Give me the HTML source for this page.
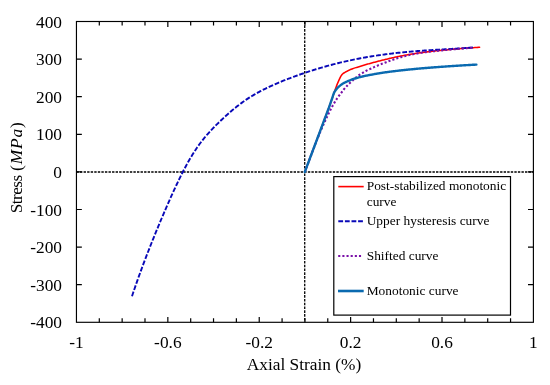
<!DOCTYPE html>
<html lang="en">
<head>
<meta charset="utf-8">
<title>Stress vs Axial Strain</title>
<style>
html,body{margin:0;padding:0;background:#fff;}
body{width:550px;height:385px;overflow:hidden;}
svg{display:block;font-family:"Liberation Serif","Times New Roman",serif;}
.t{font-size:17.33px;fill:#000;}
.lg{font-size:13.4px;fill:#000;}
</style>
</head>
<body>
<svg width="550" height="385" viewBox="0 0 550 385">
<rect width="550" height="385" fill="#fff"/>
<!-- zero lines -->
<g fill="none" stroke="#000" stroke-width="1.4" stroke-dasharray="2.4 1.16">
<path d="M76.45,172.00 H533.4"/>
</g>
<path d="M304.72,21.5 V322.3" fill="none" stroke="#000" stroke-width="1.3" stroke-dasharray="2.6 1.2"/>
<!-- curves -->
<g fill="none" stroke-linejoin="round">
<path d="M304.80,172.00 L305.09,171.23 L305.38,170.46 L305.66,169.69 L305.95,168.92 L306.24,168.15 L306.53,167.38 L306.82,166.61 L307.10,165.84 L307.39,165.07 L307.68,164.30 L307.97,163.53 L308.26,162.76 L308.54,161.99 L308.83,161.22 L309.12,160.45 L309.41,159.68 L309.70,158.91 L309.98,158.14 L310.27,157.37 L310.56,156.61 L310.85,155.84 L311.14,155.07 L311.42,154.30 L311.71,153.53 L312.00,152.76 L312.29,151.99 L312.57,151.22 L312.86,150.45 L313.15,149.68 L313.44,148.91 L313.73,148.14 L314.01,147.37 L314.30,146.60 L314.59,145.83 L314.88,145.06 L315.17,144.29 L315.45,143.52 L315.74,142.75 L316.03,141.98 L316.32,141.21 L316.61,140.44 L316.90,139.67 L317.18,138.90 L317.47,138.13 L317.76,137.36 L318.05,136.59 L318.34,135.82 L318.63,135.05 L318.92,134.28 L319.20,133.51 L319.49,132.74 L319.78,131.98 L320.07,131.21 L320.36,130.44 L320.64,129.67 L320.93,128.90 L321.22,128.13 L321.51,127.36 L321.80,126.59 L322.09,125.82 L322.37,125.05 L322.66,124.28 L322.95,123.51 L323.24,122.74 L323.53,121.97 L323.81,121.20 L324.10,120.43 L324.39,119.66 L324.68,118.89 L324.97,118.12 L325.25,117.35 L325.54,116.58 L325.83,115.81 L326.12,115.04 L326.41,114.27 L326.70,113.51 L326.99,112.74 L327.28,111.97 L327.57,111.20 L327.86,110.43 L328.15,109.66 L328.44,108.89 L328.72,108.12 L329.01,107.35 L329.29,106.58 L329.57,105.80 L329.85,105.03 L330.13,104.26 L330.40,103.48 L330.68,102.71 L330.95,101.93 L331.22,101.16 L331.50,100.38 L331.77,99.61 L332.04,98.83 L332.31,98.05 L332.57,97.28 L332.84,96.50 L333.10,95.72 L333.36,94.94 L333.62,94.16 L333.89,93.38 L334.15,92.60 L334.41,91.83 L334.68,91.05 L334.96,90.27 L335.23,89.50 L335.50,88.72 L335.78,87.95 L336.06,87.18 L336.35,86.41 L336.65,85.64 L336.95,84.88 L337.25,84.11 L337.56,83.35 L337.88,82.59 L338.21,81.84 L338.54,81.09 L338.87,80.34 L339.21,79.58 L339.55,78.83 L339.90,78.08 L340.26,77.34 L340.65,76.62 L341.07,75.93 L341.54,75.24 L342.05,74.59 L342.60,74.00 L343.24,73.47 L343.91,72.99 L344.60,72.55 L345.31,72.13 L346.03,71.74 L346.77,71.37 L347.50,71.00 L348.24,70.63 L348.98,70.26 L349.72,69.90 L350.47,69.56 L351.22,69.23 L351.98,68.93 L352.75,68.65 L353.52,68.38 L354.30,68.12 L355.08,67.87 L355.87,67.63 L356.66,67.39 L357.45,67.16 L358.24,66.93 L359.03,66.69 L359.82,66.46 L360.60,66.22 L361.39,65.98 L362.18,65.74 L362.96,65.50 L363.75,65.26 L364.54,65.02 L365.32,64.79 L366.11,64.56 L366.90,64.33 L367.69,64.10 L368.48,63.87 L369.27,63.65 L370.06,63.43 L370.86,63.21 L371.65,62.99 L372.44,62.77 L373.23,62.56 L374.03,62.35 L374.82,62.13 L375.62,61.92 L376.41,61.71 L377.21,61.51 L378.00,61.30 L378.80,61.10 L379.60,60.90 L380.39,60.70 L381.19,60.50 L381.99,60.31 L382.79,60.11 L383.58,59.91 L384.38,59.72 L385.18,59.52 L385.98,59.33 L386.78,59.13 L387.58,58.94 L388.38,58.75 L389.18,58.56 L389.98,58.37 L390.78,58.19 L391.58,58.00 L392.38,57.82 L393.19,57.64 L393.99,57.46 L394.79,57.28 L395.59,57.11 L396.40,56.94 L397.20,56.77 L398.01,56.60 L398.81,56.44 L399.62,56.28 L400.42,56.12 L401.23,55.96 L402.03,55.81 L402.84,55.65 L403.65,55.50 L404.46,55.35 L405.26,55.20 L406.07,55.05 L406.88,54.90 L407.69,54.76 L408.50,54.61 L409.31,54.47 L410.12,54.33 L410.93,54.19 L411.74,54.05 L412.56,53.92 L413.37,53.79 L414.18,53.66 L414.99,53.53 L415.80,53.41 L416.62,53.28 L417.43,53.16 L418.24,53.04 L419.06,52.93 L419.87,52.82 L420.68,52.71 L421.50,52.60 L422.31,52.49 L423.12,52.39 L423.94,52.28 L424.75,52.18 L425.57,52.08 L426.38,51.97 L427.20,51.87 L428.02,51.77 L428.83,51.68 L429.65,51.58 L430.46,51.48 L431.28,51.39 L432.10,51.30 L432.92,51.20 L433.73,51.11 L434.55,51.02 L435.37,50.93 L436.18,50.85 L437.00,50.76 L437.82,50.67 L438.64,50.59 L439.46,50.50 L440.27,50.42 L441.09,50.34 L441.91,50.26 L442.73,50.18 L443.55,50.10 L444.37,50.02 L445.18,49.94 L446.00,49.86 L446.82,49.79 L447.64,49.71 L448.46,49.64 L449.28,49.56 L450.09,49.49 L450.91,49.42 L451.73,49.35 L452.55,49.28 L453.37,49.21 L454.19,49.14 L455.01,49.07 L455.82,49.00 L456.64,48.93 L457.46,48.86 L458.28,48.79 L459.10,48.73 L459.92,48.66 L460.74,48.60 L461.56,48.53 L462.38,48.47 L463.20,48.40 L464.02,48.34 L464.84,48.28 L465.65,48.22 L466.47,48.16 L467.29,48.10 L468.11,48.04 L468.93,47.98 L469.75,47.92 L470.57,47.87 L471.39,47.81 L472.21,47.76 L473.04,47.70 L473.86,47.65 L474.68,47.60 L475.50,47.54 L476.32,47.49 L477.14,47.44 L477.96,47.39 L478.78,47.35 L479.60,47.30" stroke="#ff0000" stroke-width="1.55" stroke-linecap="round"/>
<path d="M132.00,296.23 L133.14,292.81 L134.28,289.44 L135.43,286.11 L136.57,282.83 L137.71,279.59 L138.85,276.39 L140.00,273.23 L141.14,270.10 L142.28,267.00 L143.42,263.94 L144.57,260.91 L145.71,257.90 L146.85,254.93 L147.99,251.98 L149.14,249.05 L150.28,246.15 L151.42,243.27 L152.56,240.41 L153.71,237.58 L154.85,234.76 L155.99,231.96 L157.13,229.18 L158.28,226.42 L159.42,223.68 L160.56,220.96 L161.70,218.25 L162.85,215.56 L163.99,212.88 L165.13,210.22 L166.27,207.58 L167.42,204.96 L168.56,202.36 L169.70,199.77 L170.84,197.21 L171.99,194.67 L173.13,192.15 L174.27,189.65 L175.41,187.19 L176.56,184.74 L177.70,182.33 L178.84,179.96 L179.98,177.61 L181.13,175.30 L182.27,173.03 L183.41,170.80 L184.55,168.60 L185.70,166.46 L186.84,164.35 L187.98,162.29 L189.12,160.28 L190.27,158.32 L191.41,156.40 L192.55,154.53 L193.69,152.71 L194.84,150.94 L195.98,149.21 L197.12,147.53 L198.26,145.90 L199.41,144.31 L200.55,142.77 L201.69,141.27 L202.83,139.80 L203.98,138.38 L205.12,136.99 L206.26,135.64 L207.40,134.32 L208.55,133.03 L209.69,131.77 L210.83,130.54 L211.97,129.33 L213.12,128.14 L214.26,126.97 L215.40,125.82 L216.54,124.68 L217.69,123.56 L218.83,122.46 L219.97,121.37 L221.11,120.28 L222.26,119.21 L223.40,118.16 L224.54,117.11 L225.68,116.07 L226.83,115.04 L227.97,114.03 L229.11,113.02 L230.25,112.03 L231.40,111.04 L232.54,110.08 L233.68,109.12 L234.82,108.18 L235.97,107.26 L237.11,106.35 L238.25,105.45 L239.39,104.57 L240.54,103.71 L241.68,102.87 L242.82,102.04 L243.96,101.23 L245.11,100.43 L246.25,99.65 L247.39,98.89 L248.53,98.14 L249.67,97.41 L250.82,96.70 L251.96,95.99 L253.10,95.31 L254.24,94.63 L255.39,93.97 L256.53,93.32 L257.67,92.68 L258.81,92.06 L259.96,91.44 L261.10,90.84 L262.24,90.25 L263.38,89.67 L264.53,89.09 L265.67,88.53 L266.81,87.97 L267.95,87.43 L269.10,86.89 L270.24,86.36 L271.38,85.83 L272.52,85.32 L273.67,84.81 L274.81,84.30 L275.95,83.81 L277.09,83.32 L278.24,82.83 L279.38,82.36 L280.52,81.88 L281.66,81.42 L282.81,80.95 L283.95,80.49 L285.09,80.04 L286.23,79.59 L287.38,79.15 L288.52,78.71 L289.66,78.27 L290.80,77.84 L291.95,77.41 L293.09,76.99 L294.23,76.57 L295.37,76.15 L296.52,75.74 L297.66,75.33 L298.80,74.92 L299.94,74.52 L301.09,74.12 L302.23,73.73 L303.37,73.34 L304.51,72.95 L305.66,72.57 L306.80,72.18 L307.94,71.81 L309.08,71.43 L310.23,71.06 L311.37,70.70 L312.51,70.33 L313.65,69.98 L314.80,69.62 L315.94,69.27 L317.08,68.92 L318.22,68.57 L319.37,68.23 L320.51,67.89 L321.65,67.56 L322.79,67.23 L323.94,66.90 L325.08,66.58 L326.22,66.26 L327.36,65.94 L328.51,65.63 L329.65,65.32 L330.79,65.01 L331.93,64.71 L333.08,64.41 L334.22,64.12 L335.36,63.83 L336.50,63.54 L337.65,63.25 L338.79,62.97 L339.93,62.69 L341.07,62.42 L342.22,62.15 L343.36,61.88 L344.50,61.62 L345.64,61.36 L346.79,61.10 L347.93,60.85 L349.07,60.59 L350.21,60.35 L351.36,60.10 L352.50,59.86 L353.64,59.63 L354.78,59.39 L355.93,59.16 L357.07,58.94 L358.21,58.71 L359.35,58.49 L360.49,58.28 L361.64,58.06 L362.78,57.85 L363.92,57.64 L365.06,57.44 L366.21,57.24 L367.35,57.04 L368.49,56.85 L369.63,56.65 L370.78,56.47 L371.92,56.28 L373.06,56.10 L374.20,55.92 L375.35,55.74 L376.49,55.57 L377.63,55.40 L378.77,55.23 L379.92,55.07 L381.06,54.91 L382.20,54.75 L383.34,54.59 L384.49,54.44 L385.63,54.29 L386.77,54.14 L387.91,54.00 L389.06,53.85 L390.20,53.71 L391.34,53.58 L392.48,53.44 L393.63,53.31 L394.77,53.18 L395.91,53.05 L397.05,52.93 L398.20,52.81 L399.34,52.69 L400.48,52.57 L401.62,52.45 L402.77,52.34 L403.91,52.23 L405.05,52.12 L406.19,52.02 L407.34,51.91 L408.48,51.81 L409.62,51.71 L410.76,51.61 L411.91,51.51 L413.05,51.42 L414.19,51.32 L415.33,51.23 L416.48,51.14 L417.62,51.06 L418.76,50.97 L419.90,50.88 L421.05,50.80 L422.19,50.72 L423.33,50.64 L424.47,50.56 L425.62,50.48 L426.76,50.40 L427.90,50.33 L429.04,50.25 L430.19,50.18 L431.33,50.10 L432.47,50.03 L433.61,49.96 L434.76,49.89 L435.90,49.82 L437.04,49.75 L438.18,49.68 L439.33,49.61 L440.47,49.54 L441.61,49.48 L442.75,49.41 L443.90,49.34 L445.04,49.28 L446.18,49.21 L447.32,49.14 L448.47,49.08 L449.61,49.01 L450.75,48.94 L451.89,48.87 L453.04,48.81 L454.18,48.74 L455.32,48.67 L456.46,48.60 L457.61,48.53 L458.75,48.46 L459.89,48.39 L461.03,48.32 L462.18,48.24 L463.32,48.17 L464.46,48.09 L465.60,48.02 L466.75,47.94 L467.89,47.86 L469.03,47.78 L470.17,47.70 L471.32,47.61 L472.46,47.53 L473.60,47.44" stroke="#0808b8" stroke-width="1.9" stroke-dasharray="4.8 1.8"/>
<path d="M304.80,172.00 L305.07,171.27 L305.34,170.55 L305.62,169.82 L305.89,169.09 L306.16,168.36 L306.43,167.64 L306.70,166.91 L306.98,166.18 L307.25,165.45 L307.52,164.73 L307.79,164.00 L308.06,163.27 L308.34,162.55 L308.61,161.82 L308.88,161.09 L309.15,160.36 L309.42,159.64 L309.69,158.91 L309.96,158.18 L310.23,157.45 L310.50,156.72 L310.77,156.00 L311.04,155.27 L311.31,154.54 L311.59,153.81 L311.86,153.09 L312.13,152.36 L312.41,151.63 L312.68,150.91 L312.96,150.18 L313.24,149.46 L313.52,148.73 L313.80,148.01 L314.08,147.29 L314.36,146.56 L314.64,145.84 L314.93,145.12 L315.21,144.39 L315.49,143.67 L315.78,142.95 L316.07,142.23 L316.36,141.51 L316.64,140.79 L316.93,140.06 L317.22,139.34 L317.52,138.63 L317.81,137.91 L318.10,137.19 L318.40,136.47 L318.69,135.75 L318.99,135.03 L319.28,134.31 L319.58,133.60 L319.88,132.88 L320.18,132.16 L320.48,131.45 L320.78,130.73 L321.09,130.02 L321.39,129.31 L321.70,128.59 L322.01,127.88 L322.32,127.17 L322.64,126.46 L322.95,125.75 L323.27,125.04 L323.59,124.33 L323.90,123.62 L324.22,122.91 L324.54,122.21 L324.86,121.50 L325.18,120.79 L325.51,120.08 L325.83,119.38 L326.16,118.67 L326.49,117.97 L326.82,117.26 L327.15,116.56 L327.48,115.86 L327.82,115.16 L328.16,114.46 L328.50,113.76 L328.84,113.07 L329.19,112.37 L329.54,111.68 L329.89,110.99 L330.24,110.30 L330.60,109.61 L330.96,108.93 L331.33,108.24 L331.69,107.56 L332.06,106.87 L332.44,106.19 L332.81,105.51 L333.20,104.84 L333.58,104.16 L333.97,103.49 L334.36,102.82 L334.76,102.15 L335.16,101.48 L335.56,100.82 L335.97,100.16 L336.39,99.51 L336.81,98.86 L337.24,98.21 L337.68,97.57 L338.13,96.93 L338.58,96.30 L339.04,95.68 L339.51,95.06 L339.99,94.45 L340.47,93.84 L340.95,93.23 L341.43,92.62 L341.90,92.00 L342.36,91.37 L342.82,90.74 L343.28,90.12 L343.75,89.51 L344.24,88.91 L344.75,88.32 L345.27,87.74 L345.79,87.16 L346.32,86.60 L346.86,86.03 L347.40,85.48 L347.95,84.93 L348.50,84.38 L349.05,83.84 L349.61,83.29 L350.16,82.75 L350.71,82.20 L351.27,81.66 L351.83,81.13 L352.41,80.60 L352.99,80.09 L353.58,79.59 L354.18,79.09 L354.78,78.60 L355.38,78.10 L355.97,77.60 L356.57,77.10 L357.16,76.60 L357.76,76.11 L358.38,75.64 L359.00,75.18 L359.65,74.75 L360.30,74.33 L360.96,73.92 L361.62,73.51 L362.29,73.11 L362.95,72.70 L363.61,72.29 L364.27,71.88 L364.94,71.48 L365.61,71.10 L366.30,70.74 L366.99,70.40 L367.70,70.07 L368.41,69.75 L369.11,69.43 L369.82,69.10 L370.52,68.76 L371.22,68.43 L371.92,68.09 L372.62,67.76 L373.33,67.44 L374.04,67.13 L374.75,66.82 L375.47,66.52 L376.18,66.22 L376.90,65.92 L377.61,65.61 L378.32,65.30 L379.04,65.00 L379.76,64.70 L380.47,64.41 L381.20,64.12 L381.92,63.83 L382.64,63.55 L383.36,63.27 L384.09,62.99 L384.81,62.71 L385.54,62.44 L386.27,62.17 L387.00,61.90 L387.72,61.63 L388.45,61.36 L389.18,61.09 L389.91,60.83 L390.64,60.57 L391.37,60.30 L392.10,60.04 L392.84,59.77 L393.57,59.50 L394.30,59.24 L395.03,58.98 L395.77,58.73 L396.50,58.48 L397.24,58.23 L397.98,58.00 L398.72,57.77 L399.46,57.55 L400.21,57.34 L400.95,57.14 L401.70,56.94 L402.45,56.74 L403.20,56.54 L403.95,56.35 L404.71,56.16 L405.46,55.97 L406.22,55.78 L406.97,55.60 L407.73,55.42 L408.49,55.24 L409.25,55.07 L410.01,54.90 L410.77,54.73 L411.53,54.56 L412.29,54.40 L413.05,54.25 L413.81,54.09 L414.58,53.94 L415.34,53.80 L416.10,53.66 L416.87,53.52 L417.63,53.38 L418.40,53.26 L419.16,53.13 L419.93,53.01 L420.69,52.90 L421.46,52.78 L422.22,52.67 L422.99,52.56 L423.76,52.45 L424.52,52.35 L425.29,52.24 L426.06,52.14 L426.83,52.04 L427.60,51.95 L428.37,51.85 L429.14,51.75 L429.91,51.66 L430.68,51.57 L431.45,51.48 L432.23,51.39 L433.00,51.31 L433.77,51.22 L434.54,51.13 L435.32,51.05 L436.09,50.97 L436.86,50.89 L437.64,50.81 L438.41,50.73 L439.18,50.65 L439.96,50.57 L440.73,50.49 L441.50,50.42 L442.28,50.34 L443.05,50.27 L443.83,50.19 L444.60,50.12 L445.37,50.04 L446.15,49.97 L446.92,49.89 L447.69,49.82 L448.47,49.75 L449.24,49.67 L450.01,49.60 L450.79,49.53 L451.56,49.45 L452.33,49.38 L453.10,49.31 L453.88,49.24 L454.65,49.17 L455.42,49.10 L456.20,49.03 L456.97,48.96 L457.74,48.89 L458.52,48.82 L459.29,48.75 L460.06,48.69 L460.84,48.62 L461.61,48.56 L462.39,48.49 L463.16,48.43 L463.93,48.36 L464.71,48.30 L465.48,48.24 L466.26,48.18 L467.03,48.12 L467.80,48.06 L468.58,48.00 L469.35,47.94 L470.13,47.88 L470.90,47.82 L471.68,47.77 L472.45,47.71 L473.23,47.65 L474.00,47.60" stroke="#7a10a8" stroke-width="2.1" stroke-dasharray="2.1 2.05"/>
<path d="M304.80,172.00 L305.07,171.27 L305.35,170.54 L305.62,169.81 L305.89,169.08 L306.16,168.35 L306.44,167.62 L306.71,166.89 L306.98,166.16 L307.26,165.43 L307.53,164.71 L307.80,163.98 L308.08,163.25 L308.35,162.52 L308.62,161.79 L308.89,161.06 L309.17,160.33 L309.44,159.60 L309.71,158.87 L309.99,158.14 L310.26,157.41 L310.53,156.68 L310.80,155.95 L311.08,155.22 L311.35,154.49 L311.62,153.76 L311.90,153.03 L312.17,152.30 L312.44,151.57 L312.71,150.84 L312.99,150.12 L313.26,149.39 L313.53,148.66 L313.80,147.93 L314.08,147.20 L314.35,146.47 L314.62,145.74 L314.90,145.01 L315.17,144.28 L315.44,143.55 L315.72,142.82 L315.99,142.09 L316.26,141.36 L316.54,140.63 L316.81,139.90 L317.08,139.17 L317.36,138.44 L317.63,137.72 L317.90,136.99 L318.18,136.26 L318.45,135.53 L318.72,134.80 L319.00,134.07 L319.27,133.34 L319.54,132.61 L319.82,131.88 L320.09,131.15 L320.36,130.42 L320.64,129.69 L320.91,128.96 L321.18,128.23 L321.45,127.50 L321.73,126.77 L322.00,126.05 L322.27,125.32 L322.55,124.59 L322.82,123.86 L323.09,123.13 L323.36,122.40 L323.64,121.67 L323.91,120.94 L324.18,120.21 L324.46,119.48 L324.73,118.75 L325.00,118.02 L325.28,117.29 L325.55,116.56 L325.83,115.83 L326.10,115.11 L326.38,114.38 L326.65,113.65 L326.93,112.92 L327.21,112.19 L327.48,111.46 L327.75,110.73 L328.03,110.01 L328.30,109.28 L328.57,108.55 L328.84,107.81 L329.11,107.08 L329.37,106.35 L329.64,105.62 L329.90,104.88 L330.15,104.15 L330.41,103.41 L330.66,102.68 L330.92,101.94 L331.17,101.20 L331.42,100.47 L331.68,99.73 L331.93,99.00 L332.18,98.26 L332.42,97.51 L332.66,96.76 L332.89,96.00 L333.13,95.25 L333.38,94.51 L333.64,93.78 L333.94,93.07 L334.26,92.39 L334.62,91.71 L335.04,91.05 L335.48,90.40 L335.96,89.77 L336.46,89.16 L336.96,88.56 L337.47,87.99 L338.01,87.43 L338.58,86.89 L339.17,86.37 L339.76,85.86 L340.36,85.37 L340.98,84.89 L341.60,84.42 L342.25,83.98 L342.90,83.56 L343.57,83.17 L344.26,82.81 L344.96,82.47 L345.67,82.13 L346.38,81.81 L347.09,81.49 L347.80,81.18 L348.52,80.87 L349.24,80.57 L349.97,80.28 L350.69,80.00 L351.42,79.73 L352.15,79.48 L352.89,79.22 L353.63,78.97 L354.37,78.73 L355.11,78.50 L355.86,78.26 L356.60,78.04 L357.35,77.82 L358.10,77.61 L358.85,77.40 L359.61,77.20 L360.36,77.01 L361.11,76.82 L361.87,76.64 L362.63,76.46 L363.39,76.29 L364.15,76.12 L364.91,75.95 L365.67,75.79 L366.44,75.63 L367.20,75.48 L367.97,75.32 L368.73,75.17 L369.49,75.02 L370.26,74.88 L371.02,74.73 L371.79,74.59 L372.56,74.45 L373.32,74.32 L374.09,74.18 L374.86,74.05 L375.63,73.92 L376.39,73.79 L377.16,73.66 L377.93,73.54 L378.70,73.41 L379.47,73.29 L380.24,73.16 L381.01,73.04 L381.78,72.91 L382.54,72.79 L383.31,72.67 L384.08,72.55 L384.85,72.43 L385.62,72.31 L386.39,72.20 L387.17,72.09 L387.94,71.98 L388.71,71.87 L389.48,71.77 L390.25,71.67 L391.02,71.57 L391.80,71.47 L392.57,71.38 L393.34,71.28 L394.11,71.19 L394.89,71.09 L395.66,71.00 L396.43,70.91 L397.21,70.82 L397.98,70.73 L398.75,70.64 L399.53,70.55 L400.30,70.46 L401.08,70.38 L401.85,70.29 L402.63,70.21 L403.40,70.12 L404.18,70.04 L404.95,69.96 L405.72,69.88 L406.50,69.80 L407.27,69.72 L408.05,69.64 L408.82,69.56 L409.60,69.48 L410.38,69.40 L411.15,69.33 L411.93,69.25 L412.70,69.18 L413.48,69.10 L414.25,69.03 L415.03,68.96 L415.80,68.88 L416.58,68.81 L417.35,68.74 L418.13,68.67 L418.91,68.60 L419.68,68.53 L420.46,68.46 L421.23,68.39 L422.01,68.32 L422.78,68.26 L423.56,68.19 L424.34,68.12 L425.11,68.06 L425.89,67.99 L426.66,67.93 L427.44,67.86 L428.22,67.80 L428.99,67.74 L429.77,67.68 L430.55,67.61 L431.32,67.55 L432.10,67.49 L432.88,67.43 L433.65,67.37 L434.43,67.31 L435.21,67.25 L435.98,67.19 L436.76,67.14 L437.54,67.08 L438.31,67.02 L439.09,66.96 L439.87,66.91 L440.64,66.85 L441.42,66.80 L442.20,66.74 L442.97,66.69 L443.75,66.63 L444.53,66.58 L445.31,66.52 L446.08,66.47 L446.86,66.41 L447.64,66.36 L448.41,66.31 L449.19,66.25 L449.97,66.20 L450.74,66.15 L451.52,66.10 L452.30,66.05 L453.08,65.99 L453.85,65.94 L454.63,65.89 L455.41,65.84 L456.18,65.79 L456.96,65.74 L457.74,65.69 L458.52,65.64 L459.29,65.59 L460.07,65.55 L460.85,65.50 L461.63,65.45 L462.40,65.40 L463.18,65.35 L463.96,65.31 L464.74,65.26 L465.51,65.21 L466.29,65.17 L467.07,65.12 L467.85,65.08 L468.62,65.03 L469.40,64.99 L470.18,64.94 L470.96,64.90 L471.73,64.85 L472.51,64.81 L473.29,64.77 L474.07,64.73 L474.84,64.68 L475.62,64.64 L476.40,64.60" stroke="#0a6ab0" stroke-width="2.4" stroke-linecap="round"/>
</g>
<!-- axes -->
<g fill="none" stroke="#000" stroke-width="1.2">
<path d="M99.30,322.3 V318.20 M99.30,21.5 V25.60"/>
<path d="M122.15,322.3 V318.20 M122.15,21.5 V25.60"/>
<path d="M144.99,322.3 V318.20 M144.99,21.5 V25.60"/>
<path d="M167.84,322.3 V316.90 M167.84,21.5 V26.90"/>
<path d="M190.69,322.3 V318.20 M190.69,21.5 V25.60"/>
<path d="M213.53,322.3 V318.20 M213.53,21.5 V25.60"/>
<path d="M236.38,322.3 V318.20 M236.38,21.5 V25.60"/>
<path d="M259.23,322.3 V316.90 M259.23,21.5 V26.90"/>
<path d="M282.08,322.3 V318.20 M282.08,21.5 V25.60"/>
<path d="M304.93,322.3 V318.20 M304.93,21.5 V25.60"/>
<path d="M327.77,322.3 V318.20 M327.77,21.5 V25.60"/>
<path d="M350.62,322.3 V316.90 M350.62,21.5 V26.90"/>
<path d="M373.47,322.3 V318.20 M373.47,21.5 V25.60"/>
<path d="M396.31,322.3 V318.20 M396.31,21.5 V25.60"/>
<path d="M419.16,322.3 V318.20 M419.16,21.5 V25.60"/>
<path d="M442.01,322.3 V316.90 M442.01,21.5 V26.90"/>
<path d="M464.86,322.3 V318.20 M464.86,21.5 V25.60"/>
<path d="M487.70,322.3 V318.20 M487.70,21.5 V25.60"/>
<path d="M510.55,322.3 V318.20 M510.55,21.5 V25.60"/>
<path d="M76.45,59.10 H81.85 M533.4,59.10 H528.00"/>
<path d="M76.45,96.70 H81.85 M533.4,96.70 H528.00"/>
<path d="M76.45,134.30 H81.85 M533.4,134.30 H528.00"/>
<path d="M76.45,171.90 H81.85 M533.4,171.90 H528.00"/>
<path d="M76.45,209.50 H81.85 M533.4,209.50 H528.00"/>
<path d="M76.45,247.10 H81.85 M533.4,247.10 H528.00"/>
<path d="M76.45,284.70 H81.85 M533.4,284.70 H528.00"/>
</g>
<rect x="76.45" y="21.5" width="456.95" height="300.80" fill="none" stroke="#000" stroke-width="1.15"/>
<!-- legend -->
<rect x="333.8" y="176.6" width="176.7" height="138.5" fill="#fff" stroke="#000" stroke-width="1.2"/>
<g fill="none">
<path d="M338.3,186.6 H363.7" stroke="#ff0000" stroke-width="1.6"/>
<path d="M338.3,221.3 H363" stroke="#0808b8" stroke-width="1.9" stroke-dasharray="4.8 1.8"/>
<path d="M338.2,256 H362" stroke="#7a10a8" stroke-width="2" stroke-dasharray="2.1 2.05"/>
<path d="M338,291 H363.7" stroke="#0a6ab0" stroke-width="2.6"/>
</g>
<g class="lg">
<text x="366.7" y="190.2">Post-stabilized monotonic</text>
<text x="366.7" y="206.2">curve</text>
<text x="366.7" y="225.1">Upper hysteresis curve</text>
<text x="366.7" y="260.2">Shifted curve</text>
<text x="366.7" y="295">Monotonic curve</text>
</g>
<!-- tick labels -->
<g class="t">
<text x="76.45" y="347.7" text-anchor="middle">-1</text>
<text x="167.84" y="347.7" text-anchor="middle">-0.6</text>
<text x="259.23" y="347.7" text-anchor="middle">-0.2</text>
<text x="350.62" y="347.7" text-anchor="middle">0.2</text>
<text x="442.01" y="347.7" text-anchor="middle">0.6</text>
<text x="533.40" y="347.7" text-anchor="middle">1</text>
<text x="62" y="27.50" text-anchor="end">400</text>
<text x="62" y="65.10" text-anchor="end">300</text>
<text x="62" y="102.70" text-anchor="end">200</text>
<text x="62" y="140.30" text-anchor="end">100</text>
<text x="62" y="177.90" text-anchor="end">0</text>
<text x="62" y="215.50" text-anchor="end">-100</text>
<text x="62" y="253.10" text-anchor="end">-200</text>
<text x="62" y="290.70" text-anchor="end">-300</text>
<text x="62" y="328.30" text-anchor="end">-400</text>
<text x="304" y="370.4" text-anchor="middle">Axial Strain (%)</text>
<text transform="translate(22,213.2) rotate(-90)"><tspan letter-spacing="-0.6">Stress</tspan> <tspan letter-spacing="0.9">(<tspan font-style="italic">MPa</tspan>)</tspan></text>
</g>
</svg>
</body>
</html>
